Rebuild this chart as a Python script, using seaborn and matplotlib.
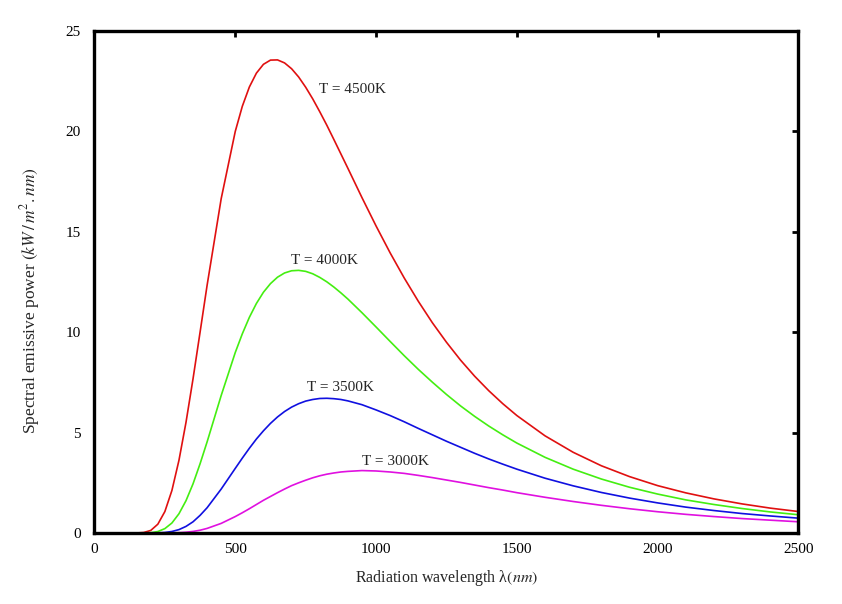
import matplotlib
matplotlib.use("Agg")
import matplotlib.pyplot as plt
import seaborn as sns
import pandas as pd

# Values (kW/m^2.nm)
wavelength = [100, 150, 175, 200, 225, 250, 275, 300, 325, 350,
              375, 400, 450, 500, 525, 550, 575, 600, 625, 650,
              675, 700, 725, 750, 775, 800, 825, 850, 875, 900,
              950, 1000, 1050, 1100, 1150, 1200, 1250, 1300, 1350, 1400,
              1450, 1500, 1600, 1700, 1800, 1900, 2000, 2100, 2200, 2300,
              2400, 2500]
power_4500 = [0, 0.003, 0.027, 0.13, 0.44, 1.07, 2.12, 3.62, 5.51, 7.68,
              10.00, 12.34, 16.65, 20.00, 21.25, 22.21, 22.90, 23.34, 23.55, 23.56,
              23.41, 23.12, 22.71, 22.20, 21.62, 20.98, 20.31, 19.60, 18.88, 18.16,
              16.70, 15.29, 13.95, 12.70, 11.54, 10.47, 9.50, 8.61, 7.81, 7.09,
              6.44, 5.85, 4.84, 4.02, 3.35, 2.81, 2.36, 2.00, 1.70, 1.45,
              1.24, 1.07]
power_4000 = [0, 0.0002, 0.003, 0.018, 0.074, 0.22, 0.50, 0.96, 1.61, 2.45,
              3.45, 4.54, 6.85, 8.99, 9.92, 10.74, 11.43, 11.99, 12.42, 12.74,
              12.95, 13.06, 13.08, 13.03, 12.91, 12.73, 12.51, 12.25, 11.96, 11.65,
              10.97, 10.26, 9.54, 8.83, 8.15, 7.51, 6.90, 6.33, 5.81, 5.33,
              4.89, 4.48, 3.77, 3.18, 2.69, 2.28, 1.94, 1.65, 1.42, 1.22,
              1.05, 0.91]
power_3500 = [0, 0, 0, 0.001, 0.008, 0.028, 0.077, 0.17, 0.33, 0.56,
              0.88, 1.26, 2.19, 3.22, 3.73, 4.22, 4.68, 5.09, 5.46, 5.78,
              6.05, 6.27, 6.44, 6.57, 6.65, 6.70, 6.71, 6.69, 6.65, 6.58,
              6.39, 6.13, 5.85, 5.54, 5.21, 4.89, 4.57, 4.27, 3.97, 3.69,
              3.43, 3.18, 2.73, 2.35, 2.02, 1.74, 1.50, 1.29, 1.12, 0.97,
              0.85, 0.74]
power_3000 = [0, 0, 0, 0, 0, 0.002, 0.006, 0.018, 0.040, 0.08,
              0.14, 0.23, 0.48, 0.82, 1.01, 1.21, 1.42, 1.63, 1.82, 2.01,
              2.19, 2.36, 2.50, 2.63, 2.75, 2.85, 2.93, 2.99, 3.04, 3.07,
              3.11, 3.09, 3.04, 2.97, 2.87, 2.76, 2.64, 2.52, 2.39, 2.26,
              2.14, 2.01, 1.78, 1.57, 1.38, 1.21, 1.06, 0.93, 0.82, 0.72,
              0.64, 0.56]

series_names = ["T = 4500K", "T = 4000K", "T = 3500K", "T = 3000K"]
series_values = [power_4500, power_4000, power_3500, power_3000]
series_colors = ["#e01010", "#44ee11", "#1010e0", "#e010e0"]
# label anchor (wavelength, power) for each curve
label_pos = [(917, 22.1), (818, 13.55), (874, 7.27), (1069, 3.54)]

xticks = [0, 500, 1000, 1500, 2000, 2500]
yticks = [0, 5, 10, 15, 20, 25]

frames = []
for name, vals in zip(series_names, series_values):
    frames.append(pd.DataFrame({"wavelength": wavelength, "power": vals, "T": name}))
data = pd.concat(frames, ignore_index=True)

sns.set_style("white")
plt.rcParams["font.family"] = ["Liberation Serif", "DejaVu Serif"]
plt.rcParams["mathtext.fontset"] = "stix"

fig = plt.figure(figsize=(8.42, 6.04), dpi=100)
ax = fig.add_axes([0.1122, 0.1175, 0.8361, 0.8312])

sns.lineplot(data=data, x="wavelength", y="power", hue="T", hue_order=series_names,
             palette=series_colors, linewidth=1.2, legend=False, ax=ax)

for name, (px, py) in zip(series_names, label_pos):
    ax.text(px, py, name, fontsize=11, ha="center", va="center")

ax.set_xlim(0, 2500)
ax.set_ylim(0, 25)
ax.set_xticks(xticks)
ax.set_yticks(yticks)
ax.tick_params(direction="in", length=4, width=2, top=True, right=True,
               labelsize=11, colors="black")
ax.tick_params(axis="x", pad=7)
ax.tick_params(axis="y", pad=10)
for sp in ax.spines.values():
    sp.set_linewidth(2.4)
    sp.set_color("black")

ax.set_xlabel(r"Radiation wavelength λ$(nm)$", fontsize=11.5, labelpad=9)
ax.set_ylabel(r"Spectral emissive power $\left(kW\,/\,m^2.nm\right)$",
              fontsize=12.5)
ax.yaxis.set_label_coords(-0.074, 0.464)

fig.savefig("out.png", dpi=100)
